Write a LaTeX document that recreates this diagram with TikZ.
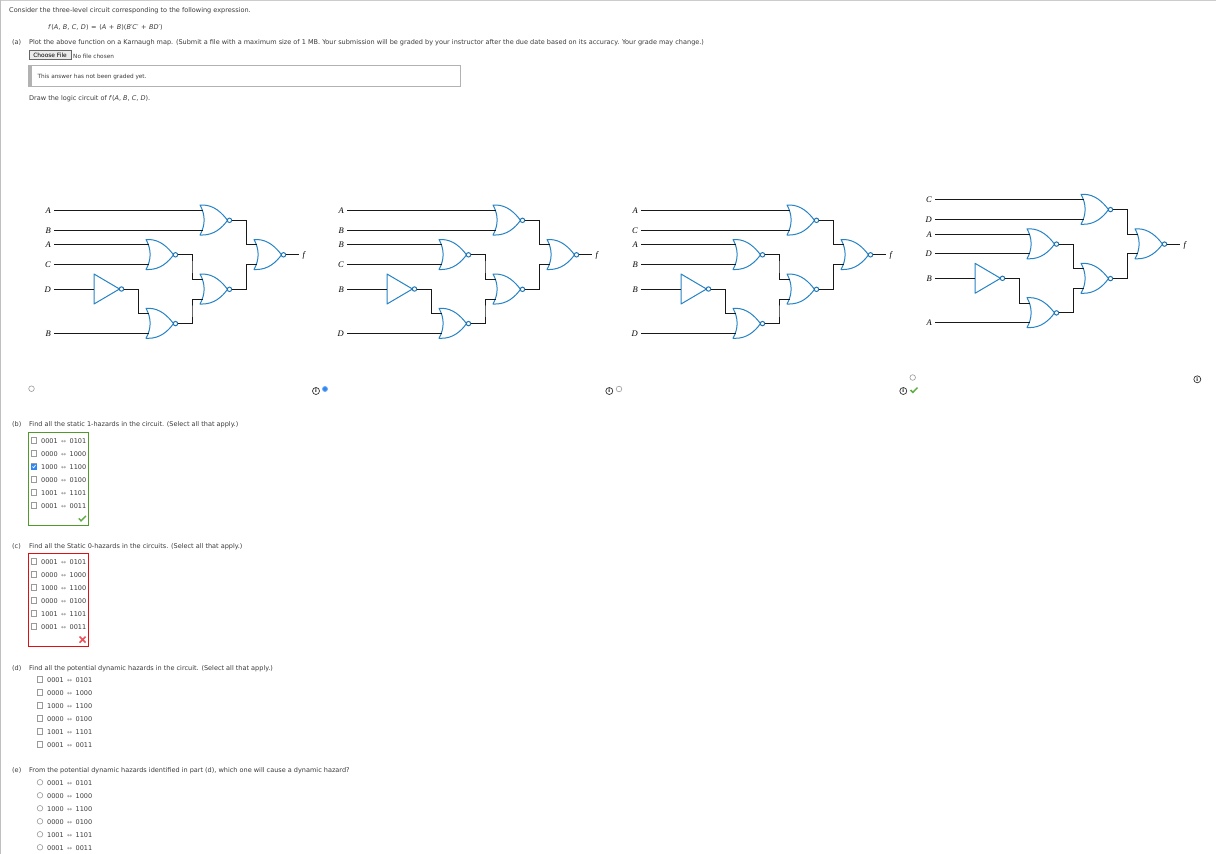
\documentclass[tikz,border=0pt]{standalone}
\usepackage{fontspec}
\setmainfont{DejaVu Sans}
\newfontfamily\lblfont{Liberation Serif}
\definecolor{gateblue}{HTML}{2583C6}
\definecolor{txtgrey}{HTML}{3A3A3A}
\definecolor{boxgreen}{HTML}{4F9A2A}
\definecolor{okgreen}{HTML}{5FAE45}
\definecolor{boxred}{HTML}{DD1111}
\definecolor{xred}{HTML}{F0505A}
\definecolor{chkgrey}{HTML}{9A9A9A}
\definecolor{selblue}{HTML}{2F86F0}
\newcommand{\pagefont}{\fontsize{6.52}{7.5}\selectfont}
\newcommand{\arr}{\hspace{3.4pt}{\fontsize{6}{6}\selectfont\textcolor{gray}{↔}}\hspace{3.4pt}}
\tikzset{
  wire/.style={line width=1pt,draw=black!90},
  gateline/.style={line width=1pt,draw=gateblue,line join=round},
  bubble/.style={circle,draw=gateblue!90!black,fill=white,line width=1pt,minimum size=4.4pt,inner sep=0pt},
  inlabel/.style={font=\lblfont\itshape\fontsize{8.5}{9}\selectfont,anchor=east,inner xsep=3pt,inner ysep=0pt,text height=6pt,text depth=0pt},
  outlabel/.style={font=\lblfont\itshape\fontsize{8.5}{9}\selectfont,anchor=west,inner xsep=3pt,inner ysep=0pt,text height=6pt,text depth=0pt},
  txt/.style={font=\pagefont,text=txtgrey,anchor=base west,inner sep=0pt,yshift=-0.8pt},
  smalltxt/.style={font=\fontsize{5.75}{6.5}\selectfont,text=txtgrey,anchor=base west,inner sep=0pt,yshift=-0.5pt},
  chkbox/.style={draw=chkgrey,fill=white,line width=0.6pt,minimum size=5.2pt,inner sep=0pt},
  radio/.style={circle,draw=gray!80,fill=white,line width=0.6pt,minimum size=5.6pt,inner sep=0pt},
  infoicon/.style={circle,draw=black!80,line width=0.7pt,minimum size=7pt,inner sep=0pt,font=\fontsize{5}{5}\selectfont\bfseries},
  norgate/.pic={
    \draw[gateline] (0,0) -- (2.5,0) .. controls (14,0) and (22,8) .. (27.5,15.3)
       .. controls (22,23) and (14,30) .. (2.5,30) -- (0,30)
       .. controls (5.5,20) and (5.5,10) .. (0,0) -- cycle;
    \coordinate (-a) at (3.4,5.4);
    \coordinate (-b) at (3.4,25);
    \node[bubble] (-o) at (29.5,15.3) {};
  },
  notgate/.pic={
    \draw[gateline] (0,0) -- (25.5,15) -- (0,30) -- cycle;
    \coordinate (-a) at (0,15);
    \node[bubble] (-o) at (27.5,15) {};
  }
}
% #1 prefix, #2 dx, #3 dy, #4..#9 input labels
\newcommand{\logiccircuit}[9]{%
\begin{scope}[shift={(#2,#3)}]
  \pic (#1g1) at (200,205) {norgate};
  \pic (#1g2) at (146,239.5) {norgate};
  \pic (#1g3) at (200,274) {norgate};
  \pic (#1g4) at (146,308.3) {norgate};
  \pic (#1g5) at (254,239.5) {norgate};
  \pic (#1inv) at (94,274) {notgate};
  \node[inlabel] (#1l1) at (54,210.4) {#4};
  \node[inlabel] (#1l2) at (54,230) {#5};
  \node[inlabel] (#1l3) at (54,244.9) {#6};
  \node[inlabel] (#1l4) at (54,264.5) {#7};
  \node[inlabel] (#1l5) at (54,289) {#8};
  \node[inlabel] (#1l6) at (54,333.3) {#9};
  \node[outlabel] (#1f) at (299.3,254.8) {f};
  \coordinate (#1j1) at (246.5,232);
  \coordinate (#1j2) at (246.5,277);
  \coordinate (#1j3) at (192,267);
  \coordinate (#1j4) at (192,311);
  \coordinate (#1j5) at (138.3,301);
  \draw[wire] (#1l1.east) -- (#1g1-a);
  \draw[wire] (#1l2.east) -- (#1g1-b);
  \draw[wire] (#1l3.east) -- (#1g2-a);
  \draw[wire] (#1l4.east) -- (#1g2-b);
  \draw[wire] (#1l5.east) -- (#1inv-a);
  \draw[wire] (#1l6.east) -- (#1g4-b);
  \draw[wire] (#1g1-o.east) -| (#1j1) |- (#1g5-a);
  \draw[wire] (#1g3-o.east) -| (#1j2) |- (#1g5-b);
  \draw[wire] (#1g2-o.east) -| (#1j3) |- (#1g3-a);
  \draw[wire] (#1g4-o.east) -| (#1j4) |- (#1g3-b);
  \draw[wire] (#1inv-o.east) -| (#1j5) |- (#1g4-a);
  \draw[wire] (#1g5-o.east) -- (#1f.west);
\end{scope}}
% #1 prefix, #2 mark style, #3 mark x, #4 text x, #5 first row y
\newcommand{\choicerows}[5]{%
  \foreach \lft/\rgt [count=\i from 0] in {0001/0101,0000/1000,1000/1100,0000/0100,1001/1101,0001/0011}{
    \node[#2] (#1m\i) at (#3,#5+13*\i) {};
    \node[txt] (#1t\i) at (#4,#5+13*\i+2.4) {\lft\arr\rgt};
  }}
\newcommand{\infomark}[3]{\node[infoicon] (#1) at (#2,#3) {i};}
\begin{document}
\begin{tikzpicture}[x=1pt,y=-1pt]
\useasboundingbox (0,0) rectangle (1216,854);
\fill[white] (0,0) rectangle (1216,854);
\draw[gray!40,line width=1pt] (0,0.8) -- (1216,0.8);
\draw[gray!50,line width=1pt] (0.5,0) -- (0.5,854);

\node[txt] (intro) at (9,11.8) {Consider the three-level circuit corresponding to the following expression.};
\node[txt] (expr) at (48,28.8) {\textit{f}(\textit{A},\hspace{0.4pt} \textit{B},\hspace{0.4pt} \textit{C},\hspace{0.4pt} \textit{D})\hspace{0.6pt} = \hspace{0.6pt}(\textit{A}\hspace{0.5pt} + \hspace{0.5pt}\textit{B})(\textit{B}′\textit{C}′\hspace{0.5pt} + \hspace{0.5pt}\textit{BD}′)};
\node[txt] (alab) at (12,43.8) {(a)};
\node[txt] (atext) at (29,43.8) {Plot the above function on a Karnaugh map. (Submit a file with a maximum size of 1 MB. Your submission will be graded by your instructor after the due date based on its accuracy. Your grade may change.)};
\node[draw=black!60,fill=black!8,line width=0.7pt,minimum width=42.5pt,minimum height=9pt,inner sep=0pt,anchor=west,font=\fontsize{5.9}{6.5}\selectfont] (btn) at (28.5,55) {Choose File};
\node[smalltxt] (nofile) at (73,57.6) {No file chosen};
\draw[gray!60,line width=1pt,fill=white] (28.5,65.5) rectangle (460.5,86.5);
\fill[gray!60] (28.5,65.5) rectangle (32,86.5);
\node[smalltxt] (ungraded) at (37.5,77.7) {This answer has not been graded yet.};
\node[txt] (draw) at (29,99.3) {Draw the logic circuit of \textit{f}(\textit{A}, \textit{B}, \textit{C}, \textit{D}).};

\logiccircuit{a}{0}{0}{A}{B}{A}{C}{D}{B}
\logiccircuit{b}{293}{0}{A}{B}{B}{C}{B}{D}
\logiccircuit{c}{587}{0}{A}{C}{A}{B}{B}{D}
\logiccircuit{d}{881}{-10.7}{C}{D}{A}{D}{B}{A}

\node[radio] (r1) at (31.5,388.7) {};
\infomark{i1}{316}{391}
\node[circle,draw=selblue!70,fill=selblue,line width=0.8pt,minimum size=5pt,inner sep=0pt] (r2) at (325,389) {};
\infomark{i2}{609.3}{391}
\node[radio] (r3) at (619,389) {};
\infomark{i3}{903.3}{391}
\node[radio] (r4) at (912.7,377.5) {};
\draw[okgreen,line width=1.5pt] (910.5,390) -- (912.8,392.4) -- (917.5,387.6);
\infomark{i4}{1197.3}{379.3}

\node[txt] (blab) at (12,425.8) {(b)};
\node[txt] (btext) at (29,425.8) {Find all the static 1-hazards in the circuit. (Select all that apply.)};
\draw[boxgreen,line width=1pt] (28.5,432.5) rectangle (88.5,525.5);
\choicerows{b}{chkbox}{34}{41}{440.3}
\node[draw=selblue,fill=selblue,minimum size=5.2pt,inner sep=0pt] (bsel) at (34,466.3) {};
\draw[white,line width=0.7pt] (32.5,466.5) -- (33.6,467.8) -- (35.6,465);
\draw[okgreen,line width=1.5pt] (78.8,518.4) -- (81.1,520.8) -- (85.8,516);

\node[txt] (clab) at (12,547.8) {(c)};
\node[txt] (ctext) at (29,547.8) {Find all the Static 0-hazards in the circuits. (Select all that apply.)};
\draw[boxred,line width=1pt] (28.5,553.5) rectangle (88.5,646.5);
\choicerows{c}{chkbox}{34}{41}{561.3}
\draw[xred,line width=1.6pt] (79.6,636.6) -- (85.6,642.6) (85.6,636.6) -- (79.6,642.6);

\node[txt] (dlab) at (12,669.9) {(d)};
\node[txt] (dtext) at (29,669.9) {Find all the potential dynamic hazards in the circuit. (Select all that apply.)};
\choicerows{d}{chkbox}{40}{47}{679.3}

\node[txt] (elab) at (12,771.6) {(e)};
\node[txt] (etext) at (29,771.6) {From the potential dynamic hazards identified in part (d), which one will cause a dynamic hazard?};
\choicerows{e}{radio}{40}{47}{782.3}
\end{tikzpicture}
\end{document}
